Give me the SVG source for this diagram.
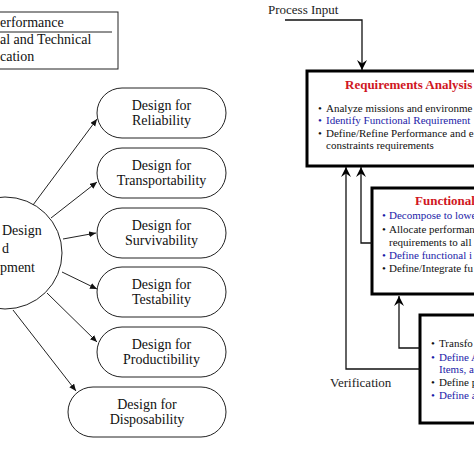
<svg xmlns="http://www.w3.org/2000/svg" width="474" height="474" viewBox="0 0 474 474">
<style>
.bg{fill:#fff}
.lt{font-family:"Liberation Serif","Times New Roman",serif;font-size:14px;fill:#111}
.ct{text-anchor:middle}
.pill{fill:#fff;stroke:#222;stroke-width:1}
.thin{fill:none;stroke:#222;stroke-width:1}
.conn{fill:none;stroke:#111;stroke-width:1.3}
.box{fill:#fff;stroke:#000;stroke-width:3}
.title{font-family:"Liberation Serif","Times New Roman",serif;font-size:13px;font-weight:bold;fill:#d0161e}
.bt{font-family:"Liberation Serif","Times New Roman",serif;font-size:11px;fill:#111}
.blue{fill:#1c1ca8}
.lbl{font-family:"Liberation Serif","Times New Roman",serif;font-size:13px;fill:#222}
</style>
<defs>
<marker id="tri" markerUnits="userSpaceOnUse" markerWidth="8" markerHeight="8" refX="7" refY="3" orient="auto">
<path d="M0,0 L7,3 L0,6 z" fill="#111"/>
</marker>
<marker id="barb" markerUnits="userSpaceOnUse" markerWidth="12" markerHeight="12" refX="10" refY="5.5" orient="auto">
<path d="M0,0.5 L10,5.5 L0,10.5 L3.5,5.5 z" fill="#000"/>
</marker>
</defs>
<rect class="bg" x="0" y="0" width="474" height="474"/>

<g id="spec-box">
<rect class="thin" x="-10" y="12" width="128" height="57"/>
<line class="thin" x1="-10" y1="32" x2="112" y2="32"/>
<text class="lt" x="0" y="27">erformance</text>
<text class="lt" x="0" y="44">al and Technical</text>
<text class="lt" x="0" y="61">cation</text>
</g>

<g id="design-circle">
<ellipse class="thin" cx="5" cy="253" rx="57" ry="56"/>
<text class="lt" x="2" y="235">Design</text>
<text class="lt" x="2" y="253">d</text>
<text class="lt" x="0" y="272">pment</text>
</g>

<g id="reliability">
<rect class="pill" x="97" y="88" width="129" height="50" rx="25"/>
<text class="lt ct" x="161.5" y="110">Design for</text>
<text class="lt ct" x="161.5" y="125">Reliability</text>
</g>
<g id="transportability">
<rect class="pill" x="97" y="148" width="129" height="50" rx="25"/>
<text class="lt ct" x="161.5" y="170">Design for</text>
<text class="lt ct" x="161.5" y="185">Transportability</text>
</g>
<g id="survivability">
<rect class="pill" x="97" y="208" width="129" height="50" rx="25"/>
<text class="lt ct" x="161.5" y="230">Design for</text>
<text class="lt ct" x="161.5" y="245">Survivability</text>
</g>
<g id="testability">
<rect class="pill" x="97" y="267" width="129" height="50" rx="25"/>
<text class="lt ct" x="161.5" y="289">Design for</text>
<text class="lt ct" x="161.5" y="304">Testability</text>
</g>
<g id="productibility">
<rect class="pill" x="97" y="327" width="129" height="50" rx="25"/>
<text class="lt ct" x="161.5" y="349">Design for</text>
<text class="lt ct" x="161.5" y="364">Productibility</text>
</g>
<g id="disposability">
<rect class="pill" x="68" y="387" width="158" height="50" rx="25"/>
<text class="lt ct" x="147" y="409">Design for</text>
<text class="lt ct" x="147" y="424">Disposability</text>
</g>

<g id="requirements-analysis">
<rect class="box" x="307" y="71" width="180" height="95"/>
<text class="title" x="345" y="89">Requirements Analysis</text>
<text class="bt" x="318" y="112">•</text><text class="bt" x="326" y="112">Analyze missions and environme</text>
<text class="bt blue" x="318" y="124">•</text><text class="bt blue" x="326" y="124">Identify Functional Requirement</text>
<text class="bt" x="318" y="137">•</text><text class="bt" x="326" y="137">Define/Refine Performance and e</text>
<text class="bt" x="326" y="149">constraints requirements</text>
</g>

<g id="functional-analysis">
<rect class="box" x="372" y="188" width="120" height="106"/>
<text class="title" x="415" y="205">Functional</text>
<text class="bt blue" x="382" y="219">•</text><text class="bt blue" x="389" y="219">Decompose to lowe</text>
<text class="bt" x="382" y="233">•</text><text class="bt" x="389" y="233">Allocate performan</text>
<text class="bt" x="389" y="246">requirements to all</text>
<text class="bt blue" x="382" y="259">•</text><text class="bt blue" x="389" y="259">Define functional i</text>
<text class="bt" x="382" y="272">•</text><text class="bt" x="389" y="272">Define/Integrate fu</text>
</g>

<g id="synthesis">
<rect class="box" x="420" y="315" width="70" height="108"/>
<text class="bt" x="431" y="347">•</text><text class="bt" x="439" y="347">Transfo</text>
<text class="bt blue" x="431" y="361">•</text><text class="bt blue" x="439" y="361">Define A</text>
<text class="bt blue" x="439" y="373">Items, a</text>
<text class="bt" x="431" y="386">•</text><text class="bt" x="439" y="386">Define p</text>
<text class="bt blue" x="431" y="399">•</text><text class="bt blue" x="439" y="399">Define a</text>
</g>

<g id="labels">
<text class="lbl" x="268" y="14">Process Input</text>
<text class="lbl" x="330" y="387">Verification</text>
</g>

<g id="connectors">
<line class="thin" x1="33" y1="205" x2="97" y2="119" marker-end="url(#tri)"/>
<line class="thin" x1="51" y1="218" x2="97" y2="182" marker-end="url(#tri)"/>
<line class="thin" x1="63" y1="239" x2="96" y2="233" marker-end="url(#tri)"/>
<line class="thin" x1="62" y1="272" x2="97" y2="289" marker-end="url(#tri)"/>
<line class="thin" x1="47" y1="293" x2="97" y2="342" marker-end="url(#tri)"/>
<line class="thin" x1="13" y1="310" x2="76" y2="391" marker-end="url(#tri)"/>
<polyline class="conn" points="285,20 362,20 362,70" marker-end="url(#barb)"/>
<polyline class="conn" points="420,369 346,369 346,167" marker-end="url(#barb)"/>
<polyline class="conn" points="372,243 361,243 361,167" marker-end="url(#barb)"/>
<polyline class="conn" points="420,348 399,348 399,296" marker-end="url(#barb)"/>
</g>
</svg>
